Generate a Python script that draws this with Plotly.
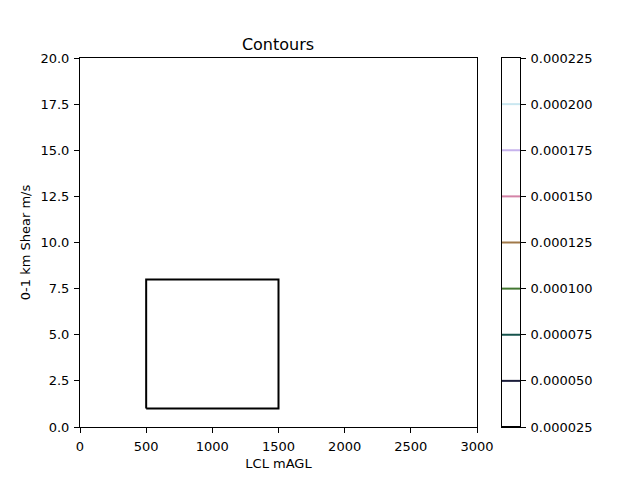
import numpy as np
import plotly.graph_objects as go

# contour drawn in the main axes (outermost level)
box_x = [500, 1500, 1500, 500, 500]
box_y = [1, 1, 8, 8, 1]

# contour levels shown in the colorbar
levels = [0.000025, 0.00005, 0.000075, 0.0001, 0.000125, 0.00015, 0.000175, 0.0002, 0.000225]
level_labels = ["0.000025", "0.000050", "0.000075", "0.000100", "0.000125",
                "0.000150", "0.000175", "0.000200", "0.000225"]

x_ticks = [0, 500, 1000, 1500, 2000, 2500, 3000]
y_ticks = [0.0, 2.5, 5.0, 7.5, 10.0, 12.5, 15.0, 17.5, 20.0]


def cubehelix(x, s=0.5, r=-1.5, h=1.0):
    a = h * x * (1 - x) / 2
    phi = 2 * np.pi * (s / 3 + r * x)
    rr = x + a * (-0.14861 * np.cos(phi) + 1.78277 * np.sin(phi))
    gg = x + a * (-0.29227 * np.cos(phi) - 0.90649 * np.sin(phi))
    bb = x + a * (1.97294 * np.cos(phi))
    c = [int(round(255 * min(1, max(0, v)))) for v in (rr, gg, bb)]
    return f"rgb({c[0]},{c[1]},{c[2]})"


lo, hi = levels[0], levels[-1]
colors = [cubehelix((v - lo) / (hi - lo)) for v in levels]

FONT = "DejaVu Sans"
fig = go.Figure()

fig.add_trace(go.Scatter(x=box_x, y=box_y, mode="lines",
                         line=dict(color=colors[0], width=2), showlegend=False,
                         xaxis="x", yaxis="y"))

for v, c in zip(levels, colors):
    fig.add_trace(go.Scatter(x=[0, 1], y=[v, v], mode="lines",
                             line=dict(color=c, width=2), showlegend=False,
                             xaxis="x2", yaxis="y2"))

axis_common = dict(showgrid=False, zeroline=False, showline=True, linecolor="black",
                   linewidth=1, mirror=True, ticks="outside", ticklen=5, tickcolor="black",
                   automargin=False, ticklabelstandoff=2,
                   tickfont=dict(family=FONT, size=13, color="black"))

fig.update_layout(
    width=640, height=480,
    paper_bgcolor="white", plot_bgcolor="white",
    margin=dict(l=0, r=0, t=0, b=0),
    font=dict(family=FONT, size=13, color="black"),
    title=dict(text="Contours", x=278 / 640, xanchor="center", y=1 - 44 / 480,
               yanchor="middle", font=dict(family=FONT, size=16, color="black")),
    xaxis=dict(domain=[80 / 640, 477 / 640], range=[0, 3000], tickvals=x_ticks,
               ticktext=[str(t) for t in x_ticks],
               title=dict(text="LCL mAGL", standoff=6, font=dict(family=FONT, size=13)),
               anchor="y", **axis_common),
    yaxis=dict(domain=[1 - 427 / 480, 1 - 58 / 480], range=[0, 20], tickvals=y_ticks,
               ticktext=[f"{t:.1f}" for t in y_ticks],
               title=dict(text="0-1 km Shear m/s", standoff=6, font=dict(family=FONT, size=13)),
               anchor="x", **axis_common),
    xaxis2=dict(domain=[502 / 640, 520 / 640], range=[0, 1], showgrid=False, zeroline=False,
                showline=True, linecolor="black", linewidth=1, mirror=True, automargin=False,
                showticklabels=False, ticks="", anchor="y2"),
    yaxis2=dict(domain=[1 - 427 / 480, 1 - 58 / 480], range=[lo, hi], tickvals=levels,
                ticktext=level_labels, side="right", anchor="x2", **axis_common),
)

fig.write_html("out.html", config={"displayModeBar": False},
               post_script="document.body.style.margin='0';")
